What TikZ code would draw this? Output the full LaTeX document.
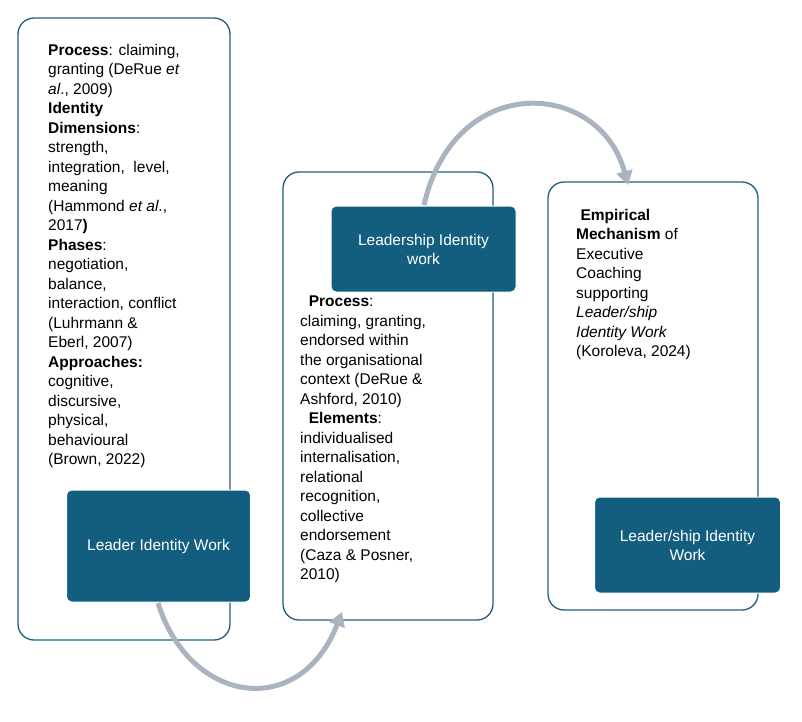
\documentclass[tikz,border=0pt]{standalone}
\usepackage{fontspec}
\setmainfont{Liberation Sans}
\usetikzlibrary{arrows.meta}
\definecolor{teal}{HTML}{135E7F}
\definecolor{edge}{HTML}{1F5F7E}
\definecolor{arr}{HTML}{A9B4C0}
\begin{document}
\begin{tikzpicture}[x=1pt,y=-1pt,
 outer/.style={draw=edge,line width=1.3pt,rounded corners=16pt},
 dark/.style={fill=teal,draw=white,line width=1pt,rounded corners=5pt,text=white,font=\fontsize{15.5}{19}\selectfont,align=center,inner sep=0pt},
 txt/.style={anchor=north west,align=left,inner sep=0pt,font=\fontsize{15.5}{19.5}\selectfont},
 flow/.style={arr,line width=5pt,-{Triangle[length=14pt,width=16pt]}}]
\useasboundingbox (0,0) rectangle (802,721);
\draw[outer] (18,18) rectangle (230,640);
\draw[outer] (283,172) rectangle (493,620);
\draw[outer] (548,182) rectangle (758,610);
\node[txt] (t1) at (48,44) {\textbf{Process}: claiming,\\granting (DeRue \textit{et}\\\textit{al}., 2009)\\\textbf{Identity}\\\textbf{Dimensions}:\\strength,\\integration,\ \ level,\\meaning\\(Hammond \textit{et al}.,\\2017\textbf{)}\\\textbf{Phases}:\\negotiation,\\balance,\\interaction,\ conflict\\(Luhrmann \&\\Eberl, 2007)\\\textbf{Approaches:}\\cognitive,\\discursive,\\physical,\\behavioural\\(Brown, 2022)};
\node[txt] (t2) at (300,296) {\ \ \textbf{Process}:\\claiming, granting,\\endorsed within\\the organisational\\context (DeRue \&\\Ashford, 2010)\\\ \ \textbf{Elements}:\\individualised\\internalisation,\\relational\\recognition,\\collective\\endorsement\\(Caza \& Posner,\\2010)};
\node[txt] (t3) at (576,209) {\ \textbf{Empirical}\\\textbf{Mechanism} of\\Executive\\Coaching\\supporting\\\textit{Leader/ship}\\\textit{Identity Work}\\(Koroleva, 2024)};
\node[dark,minimum width=184pt,minimum height=112pt] (d1) at (158.5,546) {Leader Identity Work};
\node[dark,minimum width=185pt,minimum height=86pt] (d2) at (423.5,249) {Leadership Identity\\work};
\node[dark,minimum width=186pt,minimum height=96pt] (d3) at (687.5,545) {Leader/ship Identity\\Work};
\coordinate (a1s) at (158,603);
\coordinate (a1e) at (342,612);
\coordinate (a2s) at (424,205);
\coordinate (a2e) at (628,185);
\draw[flow] (a1s) .. controls (190,705) and (300,720) .. (a1e);
\draw[flow] (a2s) .. controls (455,70) and (600,80) .. (a2e);
\end{tikzpicture}
\end{document}
